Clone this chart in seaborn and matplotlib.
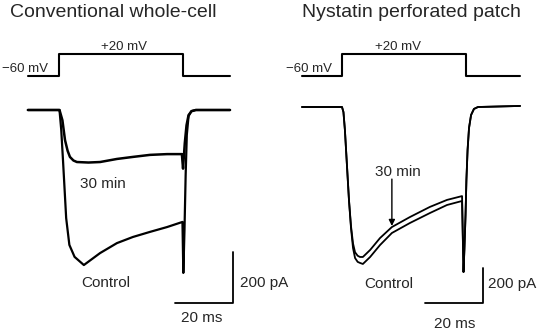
import matplotlib
matplotlib.use("Agg")
import matplotlib.pyplot as plt
import numpy as np
import seaborn as sns

# ---- data (ms, pA, mV) ----
panel_titles = ["Conventional whole-cell", "Nystatin perforated patch"]

# voltage protocol
step_t_left = [-10.9, 0, 0, 42.6, 42.6, 58.8]
step_t_right = [-13.8, 0, 0, 42.8, 42.8, 61.4]
step_mv = [-60, -60, 20, 20, -60, -60]

# conventional whole-cell currents
left_30min_t = [-10.9, -5, 0, 1.0, 1.9, 2.8, 3.6, 4.8, 6.0, 10, 14.0, 19.8, 25.3,
                31.2, 37.1, 42.2, 42.6, 43.2, 43.8, 44.5, 45.5, 47, 52, 58.8]
left_30min_i = [0, 0, 0, -40, -118, -160, -184, -198, -204, -206, -204, -192, -184,
                -176, -173, -173, -230, -130, -60, -20, -5, 0, 0, 0]
left_ctrl_t = [-10.9, -5, 0, 0.6, 1.2, 2.3, 3.4, 5.2, 8.4, 14.0, 19.8, 25.3, 31.2,
               37.1, 42.4, 42.7, 43.1, 43.5, 43.9, 44.5, 45.5, 47, 52, 58.8]
left_ctrl_i = [0, 0, 0, -78, -196, -424, -529, -576, -608, -561, -522, -498, -478,
               -459, -439, -639, -470, -255, -98, -24, -4, 0, 0, 0]

# nystatin perforated patch currents
right_t = [-13.8, -1, 0, 0.5, 1.0, 1.7, 2.4, 3.1, 3.8, 4.5, 5.4, 6.2, 7.2, 9.7,
           13.1, 17.2, 23.4, 30.3, 36.2, 41.4, 41.9, 42.2, 42.6, 42.9, 43.3,
           43.8, 44.5, 45.5, 46.9, 61.4]
right_ctrl_i = [0, 0, 0, -29, -131, -331, -531, -691, -806, -863, -885, -891, -897,
                -857, -789, -720, -663, -606, -560, -537, -943, -817, -617, -417,
                -246, -120, -46, -11, 0, 6]
right_30min_i = [0, 0, 0, -29, -131, -331, -531, -680, -780, -830, -850, -857, -857,
                 -817, -749, -686, -629, -571, -531, -509, -943, -817, -617, -417,
                 -246, -120, -46, -11, 0, 6]

sns.set_theme(style="white")
plt.rcParams["font.family"] = ["Liberation Sans", "DejaVu Sans"]

fig = plt.figure(figsize=(5.4, 3.3), dpi=100)
axL = fig.add_axes([0, 0, 0.5, 1])
axR = fig.add_axes([0.5, 0, 0.5, 1])

# map data units onto the pixel layout of the reference
axL.set_xlim(-59.5 / 2.9, (270 - 59.5) / 2.9)
axL.set_ylim((110 - 330) / 0.255, 110 / 0.255)
axR.set_xlim((270 - 342) / 2.9, (540 - 342) / 2.9)
axR.set_ylim((107 - 330) / 0.175, 107 / 0.175)

pL = axL.twinx()
pR = axR.twinx()
for p in (pL, pR):
    p.set_ylim(-60 - (330 - 76) / 0.275, -60 + 76 / 0.275)

kw = dict(color="black", estimator=None, sort=False, legend=False)

sns.lineplot(x=left_30min_t, y=left_30min_i, ax=axL, lw=1.8, **kw)
sns.lineplot(x=left_ctrl_t, y=left_ctrl_i, ax=axL, lw=1.6, **kw)
sns.lineplot(x=right_t, y=right_ctrl_i, ax=axR, lw=1.3, **kw)
sns.lineplot(x=right_t, y=right_30min_i, ax=axR, lw=1.3, **kw)

sns.lineplot(x=step_t_left, y=step_mv, ax=pL, lw=1.5, **kw)
sns.lineplot(x=step_t_right, y=step_mv, ax=pR, lw=1.5, **kw)

for p in (pL, pR):
    p.text(-4.0 if p is pL else -3.4, -45.5, "\u221260 mV", ha="right",
           va="baseline", fontsize=9.5)
pL.text(22.2, 34.5, "+20 mV", ha="center", va="baseline", fontsize=9.5)
pR.text(19.3, 34.5, "+20 mV", ha="center", va="baseline", fontsize=9.5)

# scale bars
axL.plot([39.8, 59.8, 59.8], [-757, -757, -557], color="black", lw=1.3)
axR.plot([28.6, 48.6, 48.6], [-1120, -1120, -920], color="black", lw=1.3)

fs = 11
axL.text(14.8, -306, "30 min", ha="center", va="baseline", fontsize=fs)
axL.text(16.0, -694, "Control", ha="center", va="baseline", fontsize=fs)
axL.text(62.2, -694, "200 pA", ha="left", va="baseline", fontsize=fs)
axL.text(49.1, -831, "20 ms", ha="center", va="baseline", fontsize=fs)

axR.text(19.3, -394, "30 min", ha="center", va="baseline", fontsize=fs)
axR.annotate("", xy=(17.2, -680), xytext=(17.2, -412),
             arrowprops=dict(arrowstyle="-|>", color="black", lw=1.0,
                             mutation_scale=9, shrinkA=0, shrinkB=0))
axR.text(16.2, -1034, "Control", ha="center", va="baseline", fontsize=fs)
axR.text(50.3, -1034, "200 pA", ha="left", va="baseline", fontsize=fs)
axR.text(39.0, -1263, "20 ms", ha="center", va="baseline", fontsize=fs)

fig.text(10 / 540, 1 - 17 / 330, panel_titles[0], ha="left", va="baseline", fontsize=14)
fig.text(302 / 540, 1 - 17 / 330, panel_titles[1], ha="left", va="baseline", fontsize=14)

for a in (axL, axR, pL, pR):
    a.set_axis_off()

fig.savefig("out.png", dpi=100)
